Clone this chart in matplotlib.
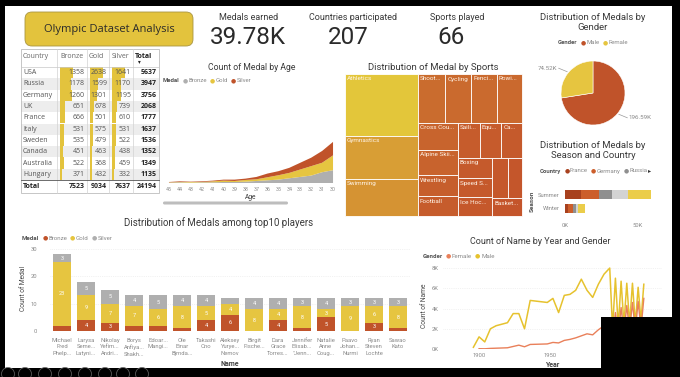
import math
import matplotlib
matplotlib.use("Agg")
import matplotlib.pyplot as plt
from matplotlib.patches import Rectangle, FancyBboxPatch, Circle
from matplotlib.colors import to_rgb

W, H = 680, 377
plt.rcParams['font.family'] = ['Roboto', 'DejaVu Sans']

# ---- table: medals by country
countries = ['USA', 'Russia', 'Germany', 'UK', 'France', 'Italy', 'Sweden', 'Canada', 'Australia', 'Hungary']
bronze_by_country = [1358, 1178, 1260, 651, 666, 531, 535, 451, 522, 371]
gold_by_country = [2638, 1599, 1301, 678, 501, 575, 479, 463, 368, 432]
silver_by_country = [1641, 1170, 1195, 739, 610, 531, 522, 438, 459, 332]

# ---- KPI cards
kpi_labels = ['Medals earned', 'Countries participated', 'Sports played']
kpi_values = ['39.78K', '207', '66']

# ---- count of medal by age
ages = [45, 44, 43, 42, 41, 40, 39, 38, 37, 36, 35, 34, 33, 32, 31, 30]
age_bronze = [10, 20, 10, 20, 20, 30, 30, 40, 60, 80, 100, 140, 180, 220, 320, 380]
age_gold = [10, 10, 20, 10, 30, 40, 30, 50, 50, 90, 130, 160, 220, 280, 280, 440]
age_silver = [10, 20, 10, 20, 20, 30, 40, 40, 70, 110, 120, 150, 200, 250, 350, 400]

# ---- treemap by sport
sports = ['Athletics', 'Gymnastics', 'Swimming', 'Shooting', 'Cycling', 'Fencing', 'Rowing',
          'Cross Country Skiing', 'Alpine Skiing', 'Wrestling', 'Football', 'Sailing',
          'Equestrianism', 'Canoeing', 'Boxing', 'Speed Skating', 'Ice Hockey', 'Hockey',
          'Biathlon', 'Basketball']
sport_counts = [38624, 26707, 23195, 11448, 10859, 10735, 10595, 9133, 8829, 7154, 6745,
                6586, 6344, 6171, 6047, 5613, 5516, 5417, 4893, 4536]

# ---- pie by gender
genders = ['Male', 'Female']
gender_medals = [196590, 74520]

# ---- season and country
seasons = ['Summer', 'Winter']
season_countries = ['France', 'Germany', 'Russia', 'UK', 'USA']
summer_medals = [10900, 12700, 8800, 10900, 15300]
winter_medals = [2300, 3500, 1800, 1600, 4600]

# ---- top10 players
player_labels = ['Michael\nFred\nPhelp...', 'Larysa\nSeme...\nLatyni...', 'Nikolay\nYefim...\nAndri...',
                 'Borys\nAnfiya...\nShakh...', 'Edoar...\nMangi...', 'Ole\nEinar\nBjrnda...',
                 'Takashi\nOno', 'Aleksey\nYurye...\nNemov', 'Birgit\nFische...',
                 'Dara\nGrace\nTorres...', 'Jennifer\nElisab...\n"Jenn...', 'Natalie\nAnne\nCoug...',
                 'Paavo\nJohan...\nNurmi', 'Ryan\nSteven\nLochte', 'Sawao\nKato']
player_bronze = [2, 4, 3, 2, 2, 1, 4, 6, 0, 4, 1, 5, 0, 3, 1]
player_gold = [23, 9, 7, 7, 6, 8, 5, 4, 8, 4, 8, 3, 9, 6, 8]
player_silver = [3, 5, 5, 4, 5, 4, 4, 2, 4, 4, 3, 4, 3, 3, 3]

# ---- count of name by year and gender
male_years = [1896, 1900, 1904, 1908, 1912, 1920, 1924, 1928, 1932, 1936, 1948, 1952, 1956, 1960,
              1964, 1968, 1972, 1976, 1980, 1984, 1988, 1992, 1994, 1996, 1998, 2000, 2002, 2004,
              2006, 2008, 2010, 2012, 2014, 2016]
male_counts = [170, 1200, 700, 2000, 2300, 2600, 3500, 3500, 2000, 4800, 4600, 5000, 3600, 5300,
               5400, 5800, 6900, 5800, 5100, 6400, 7400, 8000, 2000, 7000, 2200, 6700, 2400, 6500,
               2500, 6500, 2500, 6100, 2800, 6400]
female_years = [1900, 1904, 1908, 1912, 1920, 1924, 1928, 1932, 1936, 1948, 1952, 1956, 1960, 1964,
                1968, 1972, 1976, 1980, 1984, 1988, 1992, 1994, 1996, 1998, 2000, 2002, 2004, 2006,
                2008, 2010, 2012, 2014, 2016]
female_counts = [30, 20, 60, 80, 120, 250, 380, 220, 450, 500, 650, 600, 850, 950, 1100, 1300,
                 1500, 1400, 1900, 2300, 2700, 1100, 3600, 1400, 4100, 1600, 4300, 1800, 4600,
                 1800, 4700, 2000, 5000]

RUST = '#C0532A'
GOLD = '#E6C540'
GREY = '#AFAFAF'
TXT = '#3A3A3A'
LBL = '#8A8A8A'

fig = plt.figure(figsize=(W / 100, H / 100), dpi=100)
fig.patch.set_facecolor('white')

bg = fig.add_axes([0, 0, 1, 1], zorder=-1)
bg.set_xlim(0, W)
bg.set_ylim(H, 0)
bg.axis('off')
fg = fig.add_axes([0, 0, 1, 1], zorder=50)
fg.set_xlim(0, W)
fg.set_ylim(H, 0)
fg.axis('off')


def box(x0, y0, x1, y1):
    ax = fig.add_axes([x0 / W, 1 - y1 / H, (x1 - x0) / W, (y1 - y0) / H])
    ax.set_facecolor('none')
    return ax


def clean(ax):
    for s in ax.spines.values():
        s.set_visible(False)
    ax.tick_params(length=0, labelsize=4.2, labelcolor=LBL)


renderer = fig.canvas.get_renderer()


def legend(x, y, title, labels, colors, fs=4.6, center=False):
    items = [bg.text(x, y, title, fontsize=fs, fontweight='bold', color='#555555', va='center')]
    for lab, c in zip(labels, colors):
        items.append(bg.text(x, y, '●', fontsize=fs, color=c, va='center', family='DejaVu Sans'))
        items.append(bg.text(x, y, lab, fontsize=fs, color=LBL, va='center'))
    gaps = [3] + [0.5, 3] * len(labels)
    widths = [t.get_window_extent(renderer).width for t in items]
    total = sum(widths) + sum(gaps[:-1])
    cx = x - total / 2 if center else x
    for t, w, g in zip(items, widths, gaps):
        t.set_x(cx)
        cx += w + g


# ---- title card
bg.add_patch(FancyBboxPatch((25, 12), 168, 34, boxstyle='round,pad=0,rounding_size=7',
                            fc='#E3C33D', ec='#A89440', lw=0.6))
bg.text(109, 29.5, 'Olympic Dataset Analysis', fontsize=8, color='#2A2A2A',
        ha='center', va='center', family=['Open Sans', 'DejaVu Sans'])

# ---- table
col_edges = [21, 57, 87, 109, 133, 159]
head_y0, head_y1 = 49, 67
row_h = 11.3
tfont = ['Open Sans', 'DejaVu Sans']
columns = [bronze_by_country, gold_by_country, silver_by_country]
for i, c in enumerate(countries):
    y0 = head_y1 + i * row_h
    yc = y0 + row_h / 2
    if i % 2 == 1:
        bg.add_patch(Rectangle((col_edges[0], y0), col_edges[-1] - col_edges[0], row_h,
                               fc='#EDEDED', ec='none'))
    bg.text(col_edges[0] + 2, yc, c, fontsize=5, color='#555555', va='center', family=tfont)
    for j, col in enumerate(columns):
        lo, hi = min(col), max(col)
        bw = 2 + (col[i] - lo) / (hi - lo) * 11
        bg.add_patch(Rectangle((col_edges[j + 1] + 3, y0), bw, row_h, fc='#E3C33D', ec='none'))
        bg.text(col_edges[j + 2] - 2, yc, str(col[i]), fontsize=5, color='#555555',
                ha='right', va='center', family=tfont)
    total = sum(col[i] for col in columns)
    bg.text(col_edges[5] - 2, yc, str(total), fontsize=5, color='#222222', fontweight='bold',
            ha='right', va='center', family=tfont)

tot_y0 = head_y1 + len(countries) * row_h
tot_y1 = tot_y0 + 13
bg.text(col_edges[0] + 2, (tot_y0 + tot_y1) / 2, 'Total', fontsize=5, fontweight='bold',
        color='#222222', va='center', family=tfont)
for j, col in enumerate(columns):
    bg.text(col_edges[j + 2] - 2, (tot_y0 + tot_y1) / 2, str(sum(col)), fontsize=5,
            fontweight='bold', color='#222222', ha='right', va='center', family=tfont)
bg.text(col_edges[5] - 2, (tot_y0 + tot_y1) / 2, str(sum(sum(c) for c in columns)), fontsize=5,
        fontweight='bold', color='#222222', ha='right', va='center', family=tfont)

for name, x, bold in zip(['Country', 'Bronze', 'Gold', 'Silver', 'Total'],
                         [23, 60, 89, 112, 135], [0, 0, 0, 0, 1]):
    bg.text(x, 56, name, fontsize=5, color='#222222' if bold else '#666666',
            fontweight='bold' if bold else 'normal', va='center', family=tfont)
bg.text(139, 62, '▾', fontsize=4, color='#222222', ha='center', va='center', family='DejaVu Sans')
for x in col_edges[1:-1]:
    bg.plot([x, x], [head_y0, tot_y1], color='#D2D2D2', lw=0.5)
bg.plot([col_edges[0], col_edges[-1]], [head_y1, head_y1], color='#C8C8C8', lw=0.5)
bg.plot([col_edges[0], col_edges[-1]], [tot_y0, tot_y0], color='#555555', lw=0.6)
bg.add_patch(Rectangle((col_edges[0], head_y0), col_edges[-1] - col_edges[0], tot_y1 - head_y0,
                       fc='none', ec='#BDBDBD', lw=0.6))

# ---- KPI cards
for lab, val, x, xv in zip(kpi_labels, kpi_values, [249, 353, 457], [248, 348, 451]):
    bg.text(x, 17.5, lab, fontsize=6.5, color=TXT, ha='center', va='center')
    bg.text(xv, 37, val, fontsize=17.5, color='#2A2A2A', ha='center', va='center')

# ---- count of medal by age
bg.text(252, 67, 'Count of Medal by Age', fontsize=6.2, color=TXT, ha='center', va='center')
legend(163, 81, 'Medal', ['Bronze', 'Gold', 'Silver'], [GREY, GOLD, RUST], fs=4.3)
ax = box(163.5, 92, 338.5, 183)
pos = list(range(len(ages)))
ax.stackplot(pos, age_bronze, age_gold, age_silver, colors=[GREY, GOLD, RUST], lw=0)
ax.set_xlim(-0.5, len(ages) - 0.5)
ax.set_ylim(0, 2700)
ax.set_xticks(pos)
ax.set_xticklabels([str(a) for a in ages])
ax.set_yticks([])
clean(ax)
ax.tick_params(labelsize=3.8, pad=3)
ax.set_xlabel('Age', fontsize=4.8, color=TXT, labelpad=1.5)
bg.add_patch(FancyBboxPatch((163, 201.5), 125, 3, boxstyle='round,pad=0,rounding_size=1.5',
                            fc='#BDBDBD', ec='none'))

# ---- treemap
PHI = (1 + 5 ** 0.5) / 2


def squarify(values, x0, y0, x1, y1):
    # squarified layout with golden-ratio target, rows laid along the short side
    rects = []
    total = float(sum(values))
    i0, n = 0, len(values)
    while i0 < n:
        dx, dy = x1 - x0, y1 - y0
        s = values[i0]
        vmin = vmax = s
        alpha = max(dy / dx, dx / dy) / (total * PHI)
        beta = s * s * alpha
        best = max(vmax / beta, beta / vmin)
        i1 = i0 + 1
        while i1 < n:
            v = values[i1]
            s2 = s + v
            mn, mx = min(vmin, v), max(vmax, v)
            beta = s2 * s2 * alpha
            r = max(mx / beta, beta / mn)
            if r > best:
                break
            s, vmin, vmax, best = s2, mn, mx, r
            i1 += 1
        row = values[i0:i1]
        if dx < dy:
            h = dy * s / total
            xx = x0
            for v in row:
                w = dx * v / s
                rects.append((xx, y0, w, h))
                xx += w
            y0 += h
        else:
            w = dx * s / total
            yy = y0
            for v in row:
                hh = dy * v / s
                rects.append((x0, yy, w, hh))
                yy += hh
            x0 += w
        total -= s
        i0 = i1
    return rects


bg.text(433, 67, 'Distribution of Medal by Sports', fontsize=6.8, color=TXT, ha='center', va='center')
tm_x0, tm_y0, tm_x1, tm_y1 = 345, 74, 522, 216
c_lo, c_hi = to_rgb('#C4552B'), to_rgb('#E3C63A')
vlo, vhi = min(sport_counts), max(sport_counts)
for name, v, (rx, ry, rw, rh) in zip(sports, sport_counts,
                                     squarify(sport_counts, tm_x0, tm_y0, tm_x1, tm_y1)):
    t = (v - vlo) / (vhi - vlo)
    col = tuple(a + (b - a) * t for a, b in zip(c_lo, c_hi))
    bg.add_patch(Rectangle((rx, ry), rw, rh, fc=col, ec='white', lw=0.6))
    if rw > 18 and rh > 9:
        label = bg.text(rx + 2, ry + 2.5, name, fontsize=4.6, color='#FFF4E8', va='top', ha='left')
        k = len(name)
        while label.get_window_extent(renderer).width > rw - 5 and k > 1:
            k -= 1
            label.set_text(name[:k].rstrip() + '...')

# ---- pie by gender
bg.text(593, 22.5, 'Distribution of Medals by\nGender', fontsize=6.8, color=TXT,
        ha='center', va='center', linespacing=1.25)
legend(593, 43, 'Gender', genders, [RUST, GOLD], fs=4.3, center=True)
ax = box(561, 61, 625, 125)
wedges, _ = ax.pie(gender_medals, colors=[RUST, GOLD], startangle=90, counterclock=False,
                   wedgeprops=dict(linewidth=0.4, edgecolor='white'))
ax.set_xlim(-1, 1)
ax.set_ylim(-1, 1)
for w, v in zip(wedges, gender_medals):
    mid = math.radians((w.theta1 + w.theta2) / 2)
    ex, ey = 593 + 32 * math.cos(mid), 93 - 32 * math.sin(mid)
    side = 1 if math.cos(mid) > 0 else -1
    tx = ex + side * 10
    ty = ey + side * 4
    bg.plot([ex + side * 1.5, tx], [ey + side * 0.5, ty], color='#999999', lw=0.5)
    bg.text(tx + side * 1.5, ty, f'{v / 1000:.2f}K', fontsize=4.5, color=LBL,
            ha='left' if side > 0 else 'right', va='center')

# ---- season and country
bg.text(593, 150.5, 'Distribution of Medals by\nSeason and Country', fontsize=6.8, color=TXT,
        ha='center', va='center', linespacing=1.25)
legend(540, 171, 'Country', season_countries[:3], ['#A8411E', '#CC5E2B', '#8F8F8F'], fs=4.3)
bg.text(650, 171, '▸', fontsize=4.5, color='#333333', ha='center', va='center', family='DejaVu Sans')
ax = box(565, 187, 652, 216)
season_colors = ['#A8411E', '#CC5E2B', '#8F8F8F', '#D3D3D3', '#EBCD4A']
left = [0, 0]
for k, c in enumerate(season_countries):
    vals = [summer_medals[k], winter_medals[k]]
    ax.barh([0, 1], vals, left=left, height=0.6, color=season_colors[k], lw=0)
    left = [left[0] + vals[0], left[1] + vals[1]]
ax.set_ylim(1.55, -0.55)
ax.set_xlim(0, 59600)
ax.set_yticks([0, 1])
ax.set_yticklabels(seasons)
ax.set_xticks([0, 50000])
ax.set_xticklabels(['0K', '50K'])
clean(ax)
ax.tick_params(axis='y', pad=4)
ax.tick_params(axis='x', pad=5)
ax.set_ylabel('Season', fontsize=4.6, color='#555555', labelpad=2, fontweight='bold')

# ---- top10 players
bg.text(219, 223, 'Distribution of Medals among top10 players', fontsize=7, color=TXT,
        ha='center', va='center')
legend(22, 238, 'Medal', ['Bronze', 'Gold', 'Silver'], [RUST, GOLD, GREY], fs=4.4)
ax = box(50, 246, 410, 331)
xs = list(range(len(player_labels)))
bottom = [0] * len(xs)
for vals, c in [(player_bronze, RUST), (player_gold, GOLD), (player_silver, GREY)]:
    ax.bar(xs, vals, bottom=bottom, width=0.78, color=c, lw=0, zorder=2)
    for x, v, b in zip(xs, vals, bottom):
        if v >= 3:
            ax.text(x, b + v / 2, str(v), fontsize=4, color='white', ha='center', va='center', zorder=3)
    bottom = [b + v for b, v in zip(bottom, vals)]
ax.set_xlim(-0.5, len(xs) - 0.5)
ax.set_ylim(0, 31)
ax.set_yticks([0, 10, 20, 30])
ax.set_xticks(xs)
ax.set_xticklabels(player_labels, linespacing=1.35)
clean(ax)
ax.tick_params(axis='y', pad=9)
ax.tick_params(axis='x', pad=5, labelsize=4.2)
ax.grid(axis='y', color='#E6E6E6', lw=0.5, ls=':', zorder=0)
ax.set_ylabel('Count of Medal', fontsize=4.8, color='#444444', labelpad=3)
bg.text(230, 364, 'Name', fontsize=5, color='#444444', fontweight='bold', ha='center', va='center')

# ---- count of name by year
bg.text(540, 242, 'Count of Name by Year and Gender', fontsize=6.5, color=TXT, ha='center', va='center')
legend(423, 256, 'Gender', ['Female', 'Male'], ['#E9805A', '#E6C22E'], fs=4.4)
ax = box(443, 263, 662, 349)
ax.plot(male_years, male_counts, color='#E6C22E', lw=1.1, zorder=3)
ax.plot(female_years, female_counts, color='#E9805A', lw=1.0, zorder=3)
ax.set_xlim(1874.6, 2028.8)
ax.set_ylim(0, 8500)
ax.set_yticks([0, 2000, 4000, 6000, 8000])
ax.set_yticklabels([f'{v // 1000}K' for v in [0, 2000, 4000, 6000, 8000]])
ax.set_xticks([1900, 1950, 2000])
clean(ax)
ax.tick_params(axis='y', pad=3)
ax.tick_params(axis='x', pad=3)
ax.grid(axis='y', color='#E6E6E6', lw=0.5, ls=':', zorder=0)
ax.set_xlabel('Year', fontsize=5, color='#444444', labelpad=2, fontweight='bold')
ax.set_ylabel('Count of Name', fontsize=4.8, color='#444444', labelpad=3)

# ---- screen frame (black borders, overlay box, toolbar)
for (x, y, w, h) in [(0, 0, W, 6), (0, 0, 5, H), (672, 0, 8, H), (0, 368, W, 9), (601, 317, 71, 55)]:
    fg.add_patch(Rectangle((x, y), w, h, fc='black', ec='none'))
for cx in [8, 25, 45, 65, 85, 105, 123, 142]:
    fg.add_patch(Circle((cx, 374), 6.5, fc='none', ec='#5A5A5A', lw=0.6))

fig.savefig('out.png', dpi=100, facecolor='white')
